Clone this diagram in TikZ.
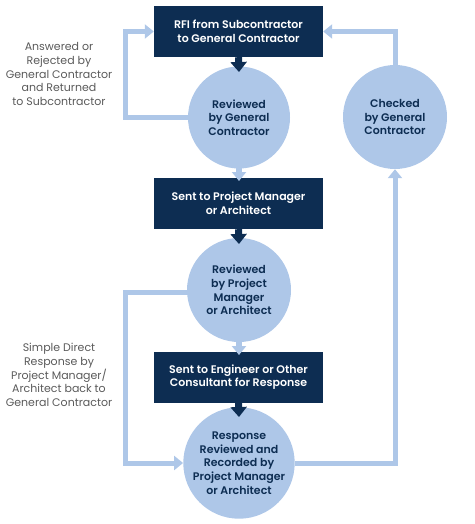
\documentclass[tikz,border=0pt]{standalone}
\usepackage{fontspec}
\setmainfont{Poppins}[BoldFont={Poppins SemiBold}]
\usetikzlibrary{arrows.meta}
\definecolor{navy}{HTML}{0D2D52}
\definecolor{lblue}{HTML}{AEC7E8}
\definecolor{gtext}{HTML}{5A5A5A}
\begin{document}
\begin{tikzpicture}[x=1pt,y=1pt,
  boxn/.style={rectangle,fill=navy,text=white,minimum width=169pt,minimum height=51pt,inner sep=0pt,align=center,font=\fontsize{11}{13.7}\selectfont\bfseries},
  circn/.style={circle,fill=lblue,text=navy,inner sep=0pt,align=center,font=\fontsize{11}{13.7}\selectfont\bfseries},
  side/.style={text=gtext,align=center,font=\fontsize{11}{13.7}\selectfont},
  loop/.style={draw=lblue,line width=5pt,-{Triangle[width=14pt,length=9pt]}},
  darr/.style={draw=navy,line width=7pt,-{Triangle[width=16pt,length=10pt]}},
  larr/.style={draw=lblue,line width=6pt,-{Triangle[width=14pt,length=9pt]}}
]
\useasboundingbox (0,0) rectangle (474,-524);
% nodes
\node[boxn] (b1) at (238.5,-31.5) {RFI from Subcontractor\\to General Contractor};
\node[circn,minimum size=102pt] (c1) at (239,-117.5) {Reviewed\\by General\\Contractor};
\node[circn,minimum size=104pt] (c2) at (395,-117) {Checked\\by General\\Contractor};
\node[boxn] (b2) at (238.5,-203.5) {Sent to Project Manager\\or Architect};
\node[circn,minimum size=104pt] (c3) at (239,-290) {Reviewed\\by Project\\Manager\\or Architect};
\node[boxn] (b3) at (238.5,-377) {Sent to Engineer or Other\\Consultant for Response};
\node[circn,minimum size=102pt] (c4) at (239,-463) {Response\\Reviewed and\\Recorded by\\Project Manager\\or Architect};
\node[side] (t1) at (59,-74) {Answered or\\Rejected by\\General Contractor\\and Returned\\to Subcontractor};
\node[side] (t2) at (59,-375) {Simple Direct\\Response by\\Project Manager/\\Architect back to\\General Contractor};
% coordinates
\coordinate (l1a) at (125,-117.5);
\coordinate (l1b) at (125,-31.5);
\coordinate (r1) at (395,-31.5);
\coordinate (r2) at (395,-463);
\coordinate (l2a) at (125,-292);
\coordinate (l2b) at (125,-463);
\coordinate (d1) at (239,-72);
\coordinate (d2) at (239,-244);
\coordinate (d3) at (239,-417);
\coordinate (e1) at (239,-181);
\coordinate (e2) at (239,-355);
% loops
\draw[loop] (c1.west) -- (l1a) -- (l1b) -- (b1.west);
\draw[loop] (c2.north) -- (r1) -- (b1.east);
\draw[loop] (c4.east) -- (r2) -- (c2.south);
\draw[loop] ([yshift=-2pt]c3.west) -- (l2a) -- (l2b) -- (c4.west);
% short arrows
\draw[darr] (b1.south) -- (d1);
\draw[darr] (b2.south) -- (d2);
\draw[darr] (b3.south) -- (d3);
\draw[larr] ([yshift=3pt]c1.south) -- (e1);
\draw[larr] ([yshift=3pt]c3.south) -- (e2);
\end{tikzpicture}
\end{document}
